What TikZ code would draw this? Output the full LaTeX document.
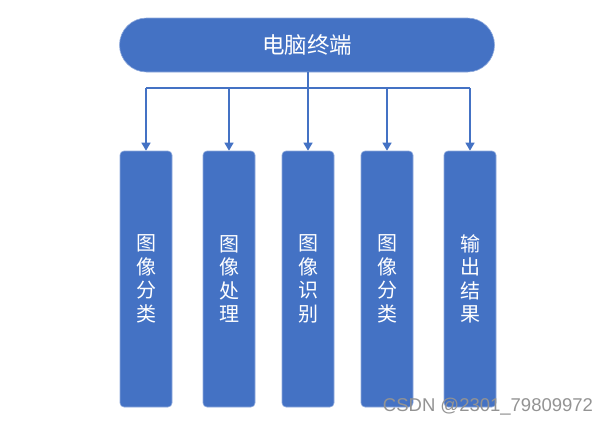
\documentclass[tikz,border=0pt]{standalone}
\usepackage{fontspec}
\setmainfont{Liberation Sans}
\newfontfamily\cjk{Noto Sans CJK SC}
\usetikzlibrary{arrows.meta,shapes.misc}
\definecolor{boxblue}{HTML}{4472C4}
\definecolor{edgeblue}{HTML}{8FAADC}
\begin{document}
\begin{tikzpicture}[x=1pt,y=-1pt,
  topbox/.style={rounded rectangle, fill=boxblue, draw=edgeblue, line width=0.6pt,
    minimum width=375pt, minimum height=54pt, inner sep=0pt, text=white,
    font=\cjk\fontsize{22.5}{24}\selectfont},
  colbox/.style={rectangle, rounded corners=4pt, fill=boxblue, draw=edgeblue, line width=0.6pt,
    minimum width=52pt, minimum height=256pt, inner sep=0pt, text=white,
    align=center, font=\cjk\fontsize{20}{23.5}\selectfont},
  link/.style={draw=boxblue, line width=1.3pt, -{Triangle[length=8pt,width=9pt]}}]
\useasboundingbox (0,0) rectangle (610,426);
\node[topbox] (top) at (307,45) {电脑终端};
\node[colbox] (b1) at (146,279) {图\\像\\分\\类};
\node[colbox] (b2) at (229,279) {图\\像\\处\\理};
\node[colbox] (b3) at (308,279) {图\\像\\识\\别};
\node[colbox] (b4) at (387,279) {图\\像\\分\\类};
\node[colbox] (b5) at (470,279) {输\\出\\结\\果};
\coordinate (j) at (308,88);
\draw[draw=boxblue, line width=1.3pt] (top.south -| j) -- (j);
\draw[draw=boxblue, line width=1.3pt] (b1.north |- j) -- (b5.north |- j);
\foreach \b in {b1,b2,b3,b4,b5}
  \draw[link] (\b.north |- j) -- (\b.north);
\node[anchor=center, text=gray!85, font=\fontsize{18.5}{20}\selectfont] (wm) at (488,407) {CSDN @2301\_79809972};
\end{tikzpicture}
\end{document}
